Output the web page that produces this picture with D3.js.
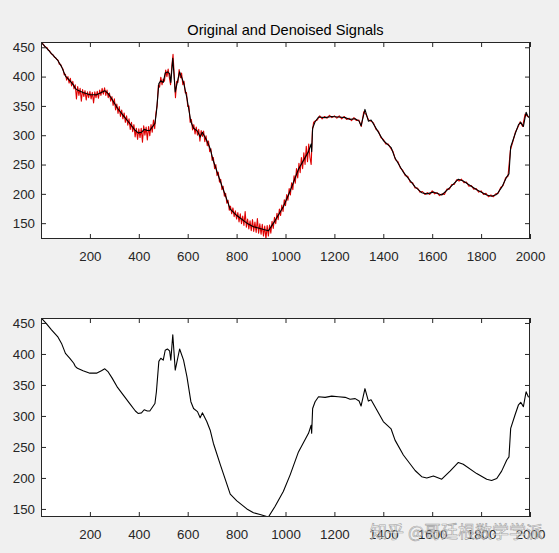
<!DOCTYPE html>
<html>
<head>
<meta charset="utf-8">
<script src="https://cdn.jsdelivr.net/npm/d3@7"></script>
<style>
  body { margin: 0; background: #f0f0f0; }
  svg { display: block; font-family: "Liberation Sans", Arial, sans-serif; }
</style>
</head>
<body>
<script>
// denoised signal
const denoisedX = [1,22,43,68,84,100,118,134,140,149,172,200,227,247,261,275,291,313,336,363,
  386,397,411,422,435,445,452,466,472,482,490,500,508,517,526,531,539,549,567,583,
  597,613,624,640,651,660,678,692,705,733,774,801,842,869,896,930,957,991,1019,1053,
  1094,1105,1107,1111,1121,1135,1162,1189,1216,1244,1264,1285,1301,1309,1325,1339,1350,1373,1400,1432,
  1448,1482,1530,1557,1578,1605,1639,1673,1707,1727,1782,1823,1843,1864,1884,1905,1914,1921,1939,1953,
  1962,1973,1984,1993,2000];
const denoisedY = [458,449,439,428,417,401,393,385,380,377,373,369,369,373,376,371,361,346,334,320,
  308,304,305,310,308,308,312,320,339,388,393,390,406,408,405,390,431,374,408,390,
  363,323,312,307,297,305,291,277,256,222,174,163,150,144,141,137,154,178,205,242,
  272,285,272,312,323,331,330,332,331,330,327,328,324,316,344,324,326,310,291,279,
  261,237,212,202,200,203,198,211,225,222,207,198,196,199,211,229,234,280,302,318,
  322,315,339,331,330];

// original (noisy) signal: samples 0..1115 every 5, then 1120..2000 every 10
const noisyHeadY = [
  459,456,455,451,450,449,445,444,440,438,437,433,432,429,428,421,421,416,413,403,
  404,394,400,389,397,384,392,379,386,362,383,368,380,358,378,366,376,360,374,364,
  375,362,373,355,374,364,375,363,377,368,380,370,381,368,377,364,372,358,366,351,
  362,343,353,337,349,332,343,328,338,322,333,317,328,310,322,306,318,297,312,293,
  311,296,312,288,316,300,314,292,315,299,318,305,326,311,338,350,385,382,399,386,
  396,392,411,400,413,398,386,418,438,402,364,392,390,412,398,406,386,392,372,373,
  349,350,322,327,309,318,302,314,300,310,290,308,298,307,289,299,282,290,272,277,
  257,262,243,250,231,237,220,225,207,213,196,201,184,189,172,179,166,176,161,171,
  157,168,152,166,149,162,146,170,143,157,140,154,137,156,136,152,134,158,133,149,
  131,148,128,145,123,146,128,147,133,153,141,160,149,167,156,174,163,181,170,190,
  180,199,189,209,198,219,207,231,218,243,227,252,236,262,243,270,250,281,255,285,
  262,250,308,322];
const noisyTailY = [
  324,326,333,328,332,329,334,330,333,329,
  333,328,332,327,329,325,330,325,326,315,
  340,335,326,324,321,310,307,296,293,285,
  285,278,272,258,255,244,240,231,230,220,
  219,210,210,203,204,199,202,199,205,200,
  202,197,200,199,208,208,216,216,224,222,
  225,219,220,213,214,208,209,203,205,199,
  201,195,198,195,200,201,211,214,227,230,
  275,289,305,313,323,315,336,332,331];
const noisyX = d3.range(0, 1120, 5).concat(d3.range(1120, 2001, 10));
const noisyY = noisyHeadY.concat(noisyTailY);

const xTicks = [200,400,600,800,1000,1200,1400,1600,1800,2000];
const yTicks = [150,200,250,300,350,400,450];
const titleText = 'Original and Denoised Signals';

const width = 559, height = 553;
const axColor = '#262626';

const svg = d3.select('body').append('svg')
  .attr('width', width)
  .attr('height', height);

const denoised = denoisedX.map((x, i) => ({ x, y: denoisedY[i] }));
const noisy = noisyX.map((x, i) => ({ x, y: noisyY[i] }));

function panel(id, top, bottom, domainData, series) {
  const left = 41, right = 530;
  const x = d3.scaleLinear().domain([0, 2000]).range([left, right]);
  const y = d3.scaleLinear().domain(d3.extent(domainData, d => d.y)).range([bottom, top]);

  const g = svg.append('g');
  g.append('rect')
    .attr('x', left).attr('y', top)
    .attr('width', right - left).attr('height', bottom - top)
    .attr('fill', '#fff');

  g.append('clipPath').attr('id', id)
    .append('rect')
    .attr('x', left).attr('y', top)
    .attr('width', right - left).attr('height', bottom - top);

  const line = d3.line().x(d => x(d.x)).y(d => y(d.y));
  const plot = g.append('g').attr('clip-path', `url(#${id})`);
  series.forEach(s => {
    plot.append('path')
      .datum(s.data)
      .attr('fill', 'none')
      .attr('stroke', s.color)
      .attr('stroke-width', s.w)
      .attr('stroke-linejoin', 'round')
      .attr('d', line);
  });

  // axes with inward ticks on all four sides (box on)
  const tl = 5;
  const styleAxis = (sel) => {
    sel.select('.domain').remove();
    sel.selectAll('.tick line').attr('stroke', axColor);
    sel.selectAll('.tick text').attr('fill', axColor).attr('font-size', '13.3px');
  };
  g.append('g').attr('transform', `translate(0,${bottom})`)
    .call(d3.axisBottom(x).tickValues(xTicks).tickFormat(d3.format('d'))
      .tickSizeInner(-tl).tickSizeOuter(0).tickPadding(13))
    .call(styleAxis);
  g.append('g').attr('transform', `translate(0,${top})`)
    .call(d3.axisTop(x).tickValues(xTicks).tickSizeInner(-tl).tickSizeOuter(0).tickFormat(''))
    .call(styleAxis);
  g.append('g').attr('transform', `translate(${left},0)`)
    .call(d3.axisLeft(y).tickValues(yTicks).tickSizeInner(-tl).tickSizeOuter(0).tickPadding(6))
    .call(styleAxis);
  g.append('g').attr('transform', `translate(${right},0)`)
    .call(d3.axisRight(y).tickValues(yTicks).tickSizeInner(-tl).tickSizeOuter(0).tickFormat(''))
    .call(styleAxis);

  g.append('rect')
    .attr('x', left + 0.5).attr('y', top + 0.5)
    .attr('width', right - left - 1).attr('height', bottom - top - 1)
    .attr('fill', 'none')
    .attr('stroke', axColor)
    .attr('stroke-width', 1);
  return g;
}

panel('clipTop', 42, 239, noisy, [
  { data: noisy, color: '#e00000', w: 1.1 },
  { data: denoised, color: '#000', w: 1.1 }
]);
panel('clipBottom', 318, 517, denoised, [
  { data: denoised, color: '#000', w: 1.1 }
]);

svg.append('text')
  .attr('x', 285.5).attr('y', 35)
  .attr('text-anchor', 'middle')
  .attr('font-size', '14.6px')
  .attr('fill', '#000')
  .text(titleText);

// watermark (overlaps the tick labels in the original too)
svg.append('text')
  .attr('x', 543).attr('y', 538)
  .attr('text-anchor', 'end')
  .attr('font-family', '"Noto Sans CJK SC", sans-serif')
  .attr('font-size', '17px')
  .attr('fill', '#fff')
  .attr('fill-opacity', 0.55)
  .attr('stroke', '#8c8c8c')
  .attr('stroke-opacity', 0.8)
  .attr('stroke-width', 0.6)
  .text('知乎 @哥廷根数学学派');
</script>
</body>
</html>
